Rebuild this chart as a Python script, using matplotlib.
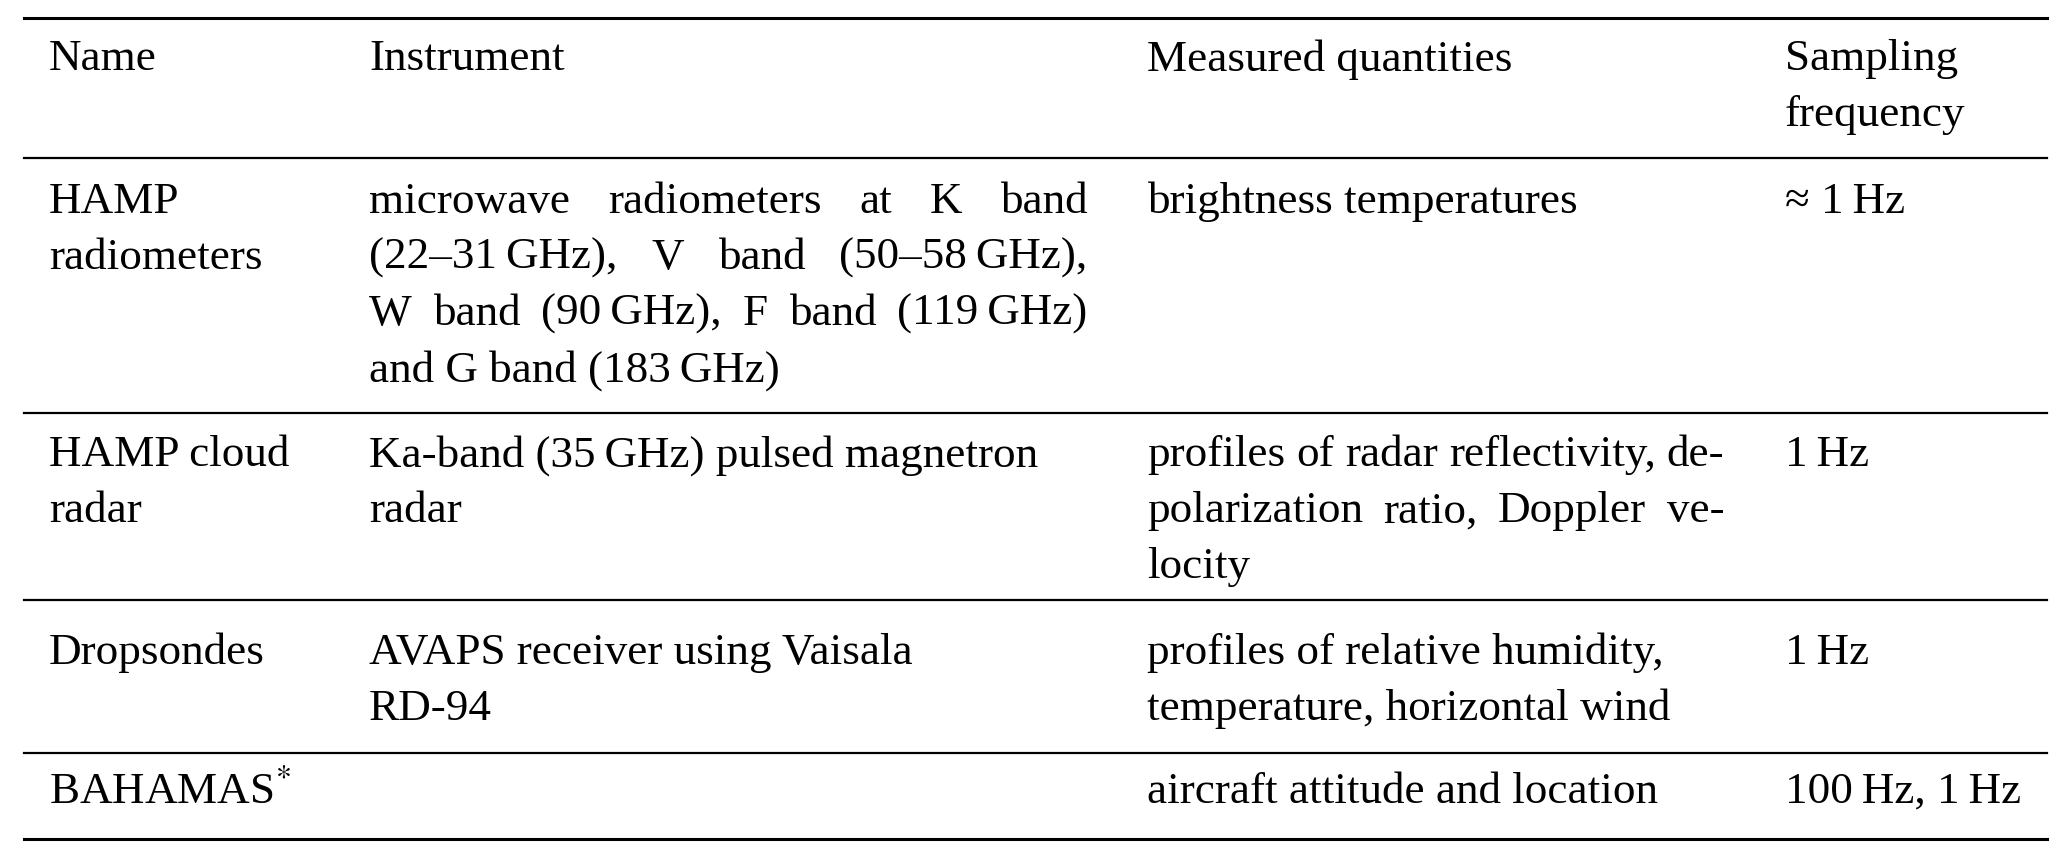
import matplotlib
matplotlib.use("Agg")
import matplotlib.pyplot as plt

plt.rcParams['font.family'] = ['Liberation Serif', 'DejaVu Serif']
plt.rcParams['mathtext.fontset'] = 'stix'

T = '\u2009'  # thin space between number and unit
headers = [["Name"], ["Instrument"], ["Measured quantities"], ["Sampling", "frequency"]]
names = [["HAMP", "radiometers"], ["HAMP cloud", "radar"], ["Dropsondes"], ["BAHAMAS$^{*}$"]]
instruments = [
    ["microwave radiometers at K band", f"(22–31{T}GHz), V band (50–58{T}GHz),",
     f"W band (90{T}GHz), F band (119{T}GHz)", f"and G band (183{T}GHz)"],
    [f"Ka-band (35{T}GHz) pulsed magnetron", "radar"],
    ["AVAPS receiver using Vaisala", "RD-94"],
    [],
]
instr_justified = [[True, True, True, False], [False, False], [False, False], []]
quantities = [
    ["brightness temperatures"],
    ["profiles of radar reflectivity, de-", "polarization ratio, Doppler ve-", "locity"],
    ["profiles of relative humidity,", "temperature, horizontal wind"],
    ["aircraft attitude and location"],
]
quant_justified = [[False], [True, True, False], [False, False], [False]]
frequencies = [[f"≈ 1{T}Hz"], [f"1{T}Hz"], [f"1{T}Hz"], [f"100{T}Hz, 1{T}Hz"]]

W, H = 1568, 651
fig = plt.figure(figsize=(20.67, 8.59), dpi=100)
ax = fig.add_axes([0, 0, 1, 1])
ax.set_xlim(0, W); ax.set_ylim(H, 0); ax.axis('off')
scale = 2067 / W
FS = 32.5
LH = 42.5
colx = [37, 280, 870, 1354]
colw = [None, 545, 438, None]
rules = [14, 120, 313, 455, 571, 636]
for i, y in enumerate(rules):
    ax.plot([18, 1553], [y, y], color='black', lw=2.2 if i in (0, 5) else 1.6)

renderer = fig.canvas.get_renderer()

def put_line(x, y, s, width=None, justify=False):
    if not justify:
        ax.text(x, y, s, fontsize=FS, va='center', ha='left')
        return
    words = s.split(' ')
    ts = [ax.text(0, y, w, fontsize=FS, va='center', ha='left') for w in words]
    ws = [t.get_window_extent(renderer).width / scale for t in ts]
    gap = (width - sum(ws)) / (len(words) - 1)
    cx = x
    for t, w in zip(ts, ws):
        t.set_x(cx)
        cx += w + gap

def put_cell(col, top, lines, just=None):
    for k, s in enumerate(lines):
        j = just[k] if just else False
        put_line(colx[col], top + k * LH, s, colw[col], j)

for c, h in enumerate(headers):
    put_cell(c, 45, h)
row_tops = [153, 345, 495, 600]
for r in range(4):
    put_cell(0, row_tops[r], names[r])
    put_cell(1, row_tops[r], instruments[r], instr_justified[r])
    put_cell(2, row_tops[r], quantities[r], quant_justified[r])
    put_cell(3, row_tops[r], frequencies[r])

fig.savefig("out.png", dpi=100)
